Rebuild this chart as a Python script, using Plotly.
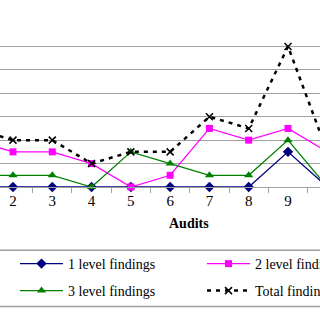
import plotly.graph_objects as go

audits = [1, 2, 3, 4, 5, 6, 7, 8, 9, 10]
level1 = [0, 0, 0, 0, 0, 0, 0, 0, 3, 0]
level2 = [4, 3, 3, 2, 0, 1, 5, 4, 5, 3]
level3 = [1, 1, 1, 0, 3, 2, 1, 1, 4, 0]
total = [5, 4, 4, 2, 3, 3, 6, 5, 12, 3]
names = ["1 level findings", "2 level findings", "3 level findings", "Total findings"]

W, H = 320, 320
T, B = 23, 133
ph = H - T - B

def py(pix):
    return (H - B - pix) / ph

FONT = "Liberation Serif"
fig = go.Figure()
fig.add_trace(go.Scatter(x=audits, y=level1, name=names[0], mode="lines+markers",
                         line=dict(color="#000080", width=1.3),
                         marker=dict(symbol="diamond", size=8, color="#000080"),
                         cliponaxis=False, legend="legend"))
fig.add_trace(go.Scatter(x=audits, y=level2, name=names[1], mode="lines+markers",
                         line=dict(color="#ff00ff", width=1.3),
                         marker=dict(symbol="square", size=7, color="#ff00ff"),
                         cliponaxis=False, legend="legend2"))
fig.add_trace(go.Scatter(x=audits, y=level3, name=names[2], mode="lines+markers",
                         line=dict(color="#008000", width=1.3),
                         marker=dict(symbol="triangle-up", size=8, color="#008000"),
                         cliponaxis=False, legend="legend3"))
fig.add_trace(go.Scatter(x=audits, y=total, name=names[3], mode="lines+markers",
                         line=dict(color="black", width=2.5, dash="4px,5px"),
                         marker=dict(symbol="x-thin", size=7, color="black",
                                     line=dict(color="black", width=1.5)),
                         cliponaxis=False, legend="legend4"))

pxu = (288 - 13) / 7.0
x0 = 2 - 13 / pxu
x1 = 9 + (W - 288) / pxu

def leg(xpix, ypix):
    return dict(x=xpix / W, xanchor="left", y=py(ypix), yanchor="middle",
                font=dict(family=FONT, size=14, color="black"),
                bgcolor="rgba(0,0,0,0)", borderwidth=0, itemwidth=43,
                orientation="v")

fig.update_layout(
    width=W, height=H,
    margin=dict(l=0, r=0, t=T, b=B, autoexpand=False),
    paper_bgcolor="white", plot_bgcolor="white",
    showlegend=True,
    legend=leg(15, 264),
    legend2=leg(202, 264),
    legend3=leg(15, 291),
    legend4=leg(202, 291),
    xaxis=dict(range=[x0, x1], tick0=0, dtick=1, ticks="", showgrid=False,
               showline=True, linecolor="#a0a0a0", linewidth=1.3,
               tickfont=dict(family=FONT, size=15, color="black"),
               minor=dict(tick0=0.5, dtick=1, ticks="outside", ticklen=5,
                          tickcolor="#a0a0a0", tickwidth=1, showgrid=False),
               zeroline=False, automargin=False),
    yaxis=dict(range=[0, 14], dtick=2, showgrid=True, gridcolor="#a0a0a0",
               gridwidth=1.3, showticklabels=False, ticks="", zeroline=False,
               showline=False, automargin=False),
    annotations=[dict(text="<b>Audits</b>", x=189 / W, y=py(233), xref="paper",
                      yref="paper", showarrow=False,
                      font=dict(family=FONT, size=14, color="black"))],
    shapes=[dict(type="rect", xref="paper", yref="paper", x0=-0.1, x1=1.1,
                 y0=py(306.5), y1=py(250.3), line=dict(color="#a0a0a0", width=1.5))],
)

fig.write_html("out.html")
